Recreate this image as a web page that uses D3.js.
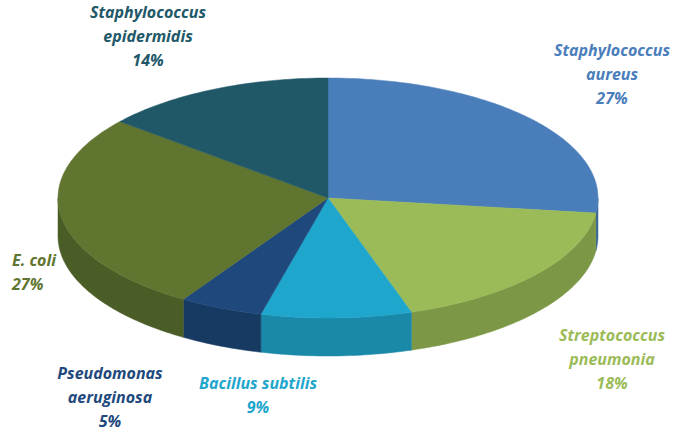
<!DOCTYPE html><html><head><script src="https://d3js.org/d3.v7.min.js"></script>
<style>body{margin:0;background:#fff}</style></head><body><svg width="685" height="432"></svg><script>
const categories=["Staphylococcus aureus","Streptococcus pneumonia","Bacillus  subtilis","Pseudomonas aeruginosa","E. coli","Staphylococcus epidermidis"];
const values=[27,18,9,5,27,14];
const colors=["#4a7ebb","#9bbb59","#1ea6cc","#1f497d","#5f7530","#215868"];
const sideColors=["#3a6599","#7c9847","#1a88a8","#173a63","#4b5d26","#1a4653"];
const labelLines=[["Staphylococcus","aureus","27%"],["Streptococcus","pneumonia","18%"],["Bacillus  subtilis","9%"],["Pseudomonas","aeruginosa","5%"],["E. coli","27%"],["Staphylococcus","epidermidis","14%"]];
const labelColors=["#4a7ebb","#9bbb59","#1ea6cc","#1f497d","#5f7530","#215868"];
const labelPos=[[612,52,"middle"],[612,337,"middle"],[258,385,"middle"],[110,375,"middle"],[12,262,"start"],[148,14,"middle"]];
const svg=d3.select("svg");
const cx=328,cy=198,rx=270,ry=120,depth=38;
const arcs=d3.pie().sort(null).startAngle(0).endAngle(2*Math.PI)(values);
const P=(t,dy=0)=>[cx+rx*Math.sin(t),cy-ry*Math.cos(t)+dy];
function arcPts(a,b,dy){const n=Math.max(2,Math.ceil((b-a)/0.02));return d3.range(n+1).map(i=>P(a+(b-a)*i/n,dy));}
arcs.forEach((d,i)=>{
  const a=Math.max(d.startAngle,Math.PI/2),b=Math.min(d.endAngle,3*Math.PI/2);
  if(b<=a)return;
  const pts=arcPts(a,b,0).concat(arcPts(a,b,depth).reverse());
  svg.append("path").attr("d","M"+pts.join("L")+"Z").attr("fill",sideColors[i]).attr("stroke",sideColors[i]).attr("stroke-width",0.5);
});
arcs.forEach((d,i)=>{
  const pts=[[cx,cy]].concat(arcPts(d.startAngle,d.endAngle,0));
  svg.append("path").attr("d","M"+pts.join("L")+"Z").attr("fill",colors[i]).attr("stroke",colors[i]).attr("stroke-width",0.5);
});
labelLines.forEach((lines,i)=>{
  const t=svg.append("text").attr("x",labelPos[i][0]).attr("y",labelPos[i][1]).attr("text-anchor",labelPos[i][2])
   .attr("fill",labelColors[i]).attr("font-family","Open Sans, sans-serif").attr("font-style","italic").attr("font-weight","bold").attr("font-size",16).attr("dominant-baseline","middle");
  lines.forEach((l,j)=>t.append("tspan").attr("x",labelPos[i][0]).attr("dy",j?24:0).text(l));
});
</script></body></html>
